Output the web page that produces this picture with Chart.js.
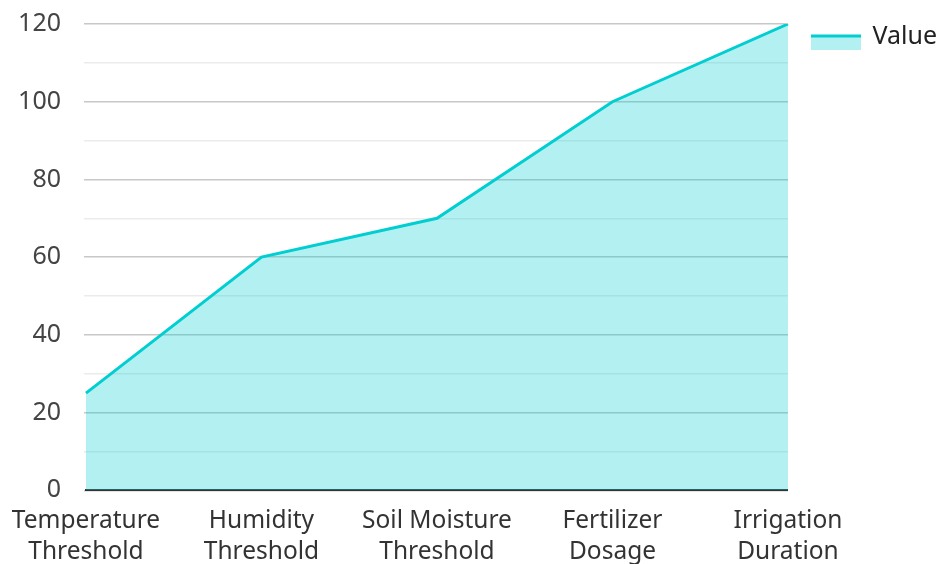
<!DOCTYPE html>
<html>
<head>
<meta charset="utf-8">
<script src="https://cdn.jsdelivr.net/npm/chart.js@4.4.1/dist/chart.umd.min.js"></script>
<style>
  html, body { margin: 0; padding: 0; background: #fff; }
  #wrap { width: 936px; height: 564px; }
</style>
</head>
<body>
<div id="wrap"><canvas id="myChart" width="936" height="564"></canvas></div>
<script>
const categories = [
    ['Temperature', 'Threshold'],
    ['Humidity', 'Threshold'],
    ['Soil Moisture', 'Threshold'],
    ['Fertilizer', 'Dosage'],
    ['Irrigation', 'Duration']
];
const values = [25, 60, 70, 100, 120];
const seriesName = 'Value';

const lineColor = '#00CED1';
const fillColor = 'rgba(0, 206, 209, 0.3)';

// legend swatch: filled box with a thick line on top, sits a bit below the text
const swatch = document.createElement('canvas');
swatch.width = 50;
swatch.height = 26;
const sctx = swatch.getContext('2d');
sctx.fillStyle = fillColor;
sctx.fillRect(0, 11, 50, 15);
sctx.fillStyle = lineColor;
sctx.fillRect(0, 11, 50, 3);

Chart.defaults.font.family = '"Noto Sans", sans-serif';
Chart.defaults.color = '#444';

const ctx = document.getElementById('myChart').getContext('2d');
const myChart = new Chart(ctx, {
    type: 'line',
    data: {
        labels: categories,
        datasets: [{
            label: seriesName,
            data: values,
            borderColor: lineColor,
            backgroundColor: fillColor,
            borderWidth: 3,
            fill: 'origin',
            pointRadius: 0,
            tension: 0
        }]
    },
    options: {
        responsive: false,
        animation: false,
        layout: {
            padding: { top: -1, right: -11, bottom: -11, left: 0 }
        },
        scales: {
            x: {
                grid: { display: false },
                border: { color: '#333', width: 2 },
                ticks: {
                    font: { size: 24.5, lineHeight: 1.28 },
                    color: '#333',
                    maxRotation: 0,
                    padding: 7
                },
                afterFit: (scale) => {
                    scale.paddingLeft = 0;
                    scale.paddingRight = 0;
                }
            },
            y: {
                min: 0,
                max: 120,
                border: { display: false },
                grid: {
                    color: (c) => (c.tick && c.tick.value % 20 === 0) ? '#c8c8c8' : '#ebebeb',
                    lineWidth: 1.5,
                    tickLength: 2
                },
                ticks: {
                    stepSize: 10,
                    font: { size: 25 },
                    color: '#444',
                    padding: 23,
                    callback: (v) => v % 20 === 0 ? v : ''
                },
                afterFit: (scale) => {
                    scale.width = 86;
                    scale.paddingTop = 24;
                    scale.paddingBottom = 0;
                }
            }
        },
        plugins: {
            legend: {
                position: 'right',
                align: 'start',
                labels: {
                    usePointStyle: true,
                    pointStyle: swatch,
                    pointStyleWidth: 47,
                    boxHeight: 24,
                    font: { size: 25 },
                    color: '#222',
                    padding: 25
                }
            },
            tooltip: { enabled: false }
        }
    }
});
</script>
</body>
</html>
